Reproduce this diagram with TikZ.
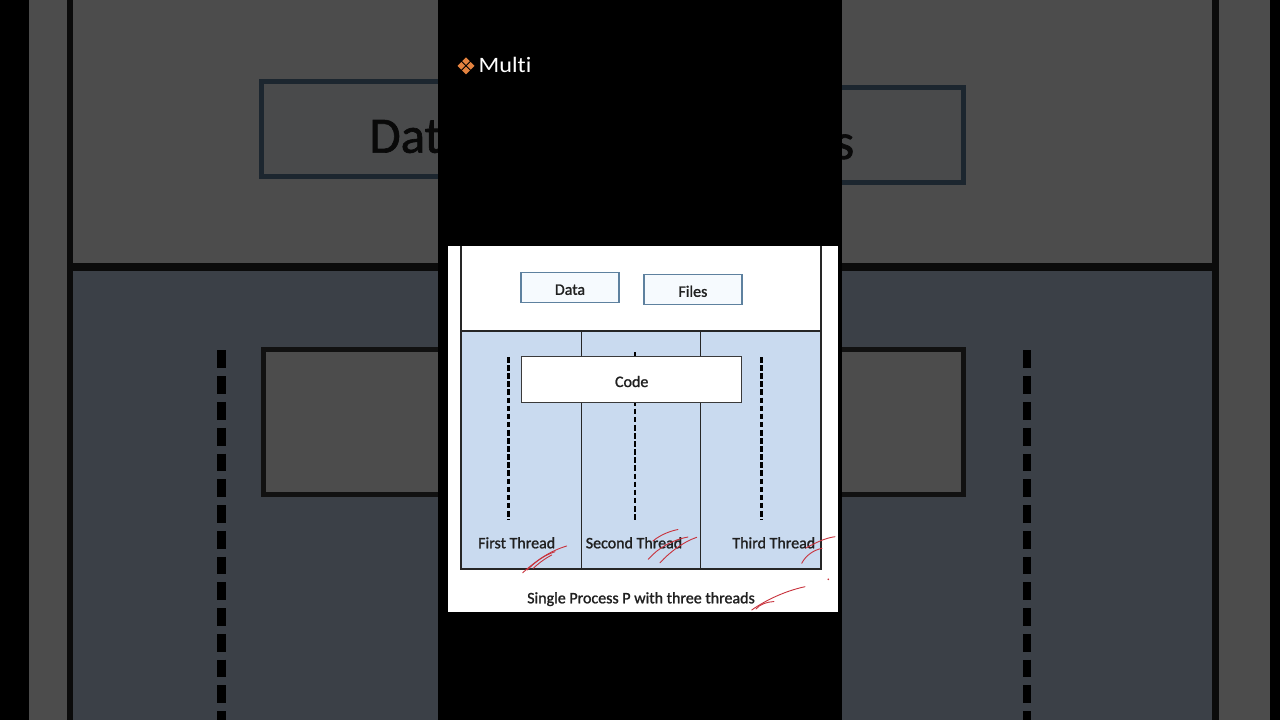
\documentclass[tikz,border=0pt]{standalone}
\usepackage{fontspec}
\setmainfont{Carlito}
\newfontfamily\diafont[FakeBold=1.3]{Carlito}
\newfontfamily\titlefont[FakeStretch=1.1, Ligatures=NoCommon]{Carlito}
\definecolor{colfill}{HTML}{C9DAEF}
\definecolor{boxline}{HTML}{5E819F}
\definecolor{boxfill}{HTML}{F6FAFE}
\definecolor{linecol}{HTML}{262626}
\definecolor{codeline}{HTML}{3A3A3A}
\definecolor{textcol}{HTML}{202020}
\definecolor{pen}{HTML}{C8323C}
\definecolor{bulletcol}{HTML}{E3823F}

\newif\ifbgpass

\tikzset{
  procline/.style={draw=linecol, line width=\lwA},
  midline/.style={draw=linecol, line width=\lwB},
  divline/.style={draw=linecol, line width=\lwC},
  threadline/.style={draw=black, line width=\lwD, dash pattern=on \dOn off \dOff},
  membox/.style={draw=boxline, fill=boxfill, line width=\lwC, minimum width=98pt,
    minimum height=30pt, inner sep=0pt, text height=15pt, text depth=0pt,
    text=textcol, font=\diafont\fontsize{16}{19}\selectfont},
  codebox/.style={draw=codeline, fill=white, line width=\lwC, minimum width=220pt,
    minimum height=45.6pt, inner sep=0pt, text height=15pt, text depth=0pt,
    text=textcol, font=\diafont\fontsize{16}{19}\selectfont},
  lbl/.style={anchor=base, inner sep=0pt, font=\diafont\fontsize{16}{19}\selectfont, text=textcol},
  penline/.style={draw=pen, line width=\lwE, line cap=round}
}

\newcommand\drawdiagram[1]{%
  \pgfmathsetmacro\lwf{#1}%
  \pgfmathsetlengthmacro\lwA{2pt*\lwf}%
  \pgfmathsetlengthmacro\lwB{2.4pt*\lwf}%
  \pgfmathsetlengthmacro\lwC{1.5pt*\lwf}%
  \pgfmathsetlengthmacro\lwD{2.7pt*\lwf}%
  \pgfmathsetlengthmacro\lwE{0.9pt*\lwf}%
  \pgfmathsetlengthmacro\dOn{5.6pt*\lwf}%
  \pgfmathsetlengthmacro\dOff{2.5pt*\lwf}%
  % image area
  \fill[white] (448,246) rectangle (838,611.5);
  \fill[colfill] (460.7,330.7) rectangle (821,569);
  % corners of the process box
  \coordinate (tl) at (460.7,246);
  \coordinate (tr) at (821,246);
  \coordinate (ml) at (460.7,330.7);
  \coordinate (mr) at (821,330.7);
  \coordinate (bl) at (460.7,569);
  \coordinate (br) at (821,569);
  \coordinate (c1t) at (581.7,330.7);
  \coordinate (c1b) at (581.7,569);
  \coordinate (c2t) at (700.7,330.7);
  \coordinate (c2b) at (700.7,569);
  \draw[divline] (c1t) -- (c1b);
  \draw[divline] (c2t) -- (c2b);
  % thread lines
  \coordinate (th1t) at (508.3,357);
  \coordinate (th1b) at (508.3,520);
  \coordinate (th2t) at (635,352);
  \coordinate (th2b) at (635,520);
  \coordinate (th3t) at (761.7,357);
  \coordinate (th3b) at (761.7,520);
  \draw[threadline] (th1t) -- (th1b);
  \draw[threadline] (th2t) -- (th2b);
  \draw[threadline] (th3t) -- (th3b);
  % code box
  \node[codebox] (code) at (631.7,379.5) {Code};
  % process borders
  \draw[procline] (tl) -- (bl) -- (br) -- (tr);
  \draw[midline] (ml) -- (mr);
  % data and files
  \node[membox] (data) at (570,287.3) {Data};
  \node[membox, minimum width=97.7pt] (files) at (692.9,289.3) {Files};
  \ifbgpass\else
  % labels
  \node[lbl] (t1) at (516.7,548.3) {First Thread};
  \node[lbl] (t2) at (634,548.3) {Second Thread};
  \node[lbl] (t3) at (773.8,548.3) {Third Thread};
  \node[lbl] (caption) at (641,603.3) {Single Process P with three threads};
  % pen marks
  \draw[penline] (522.7,572.7) .. controls (537,560) and (550,551) .. (566.7,546);
  \draw[penline] (527.3,570) .. controls (536,561) and (545,555) .. (555,551.7);
  \draw[penline] (533.3,568.3) .. controls (540,562) and (546,558) .. (551.7,555);
  \draw[penline] (653,541) .. controls (660,535) and (670,531) .. (678,529.5);
  \draw[penline] (648.3,559.3) .. controls (658,548) and (672,540) .. (688,537);
  \draw[penline] (660,562.7) .. controls (670,552) and (683,542) .. (696.7,537.3);
  \draw[penline] (801.7,563.3) .. controls (806,555) and (814,550) .. (822,548.3);
  \draw[penline] (806,548) .. controls (815,543) and (825,538) .. (835,536.7);
  \fill[pen] (828.3,579.3) circle[radius=0.9];
  \draw[penline] (751.7,610) .. controls (766,600) and (785,591) .. (805,586.7);
  \draw[penline] (756,609) .. controls (760,604) and (767,602) .. (774,601.5);
  \fi
}

\begin{document}
\begin{tikzpicture}[x=1pt, y=-1pt]
  \useasboundingbox (0,0) rectangle (1280,720);
  \fill[black] (0,0) rectangle (1280,720);
  % enlarged, darkened backdrop
  \begin{scope}
    \clip (0,0) rectangle (1280,720);
    \begin{scope}[shift={(640,360)}, scale=3.18, shift={(-640,-360)}, transform shape, name prefix=bg-]
      \bgpasstrue
      \drawdiagram{3.18}
    \end{scope}
  \end{scope}
  \fill[black, opacity=0.7] (0,0) rectangle (1280,720);
  % central panel
  \fill[black] (438,0) rectangle (842,720);
  \bgpassfalse
  \drawdiagram{1}
  % title
  \foreach \dx/\dy in {-4.7/0, 4.7/0, 0/-4.7, 0/4.7}
    \fill[bulletcol] (466,65.8+\dy) ++(\dx,0) +(-3.8,0) -- +(0,-3.8) -- +(3.8,0) -- +(0,3.8) -- cycle;
  \node[anchor=base west, inner sep=0pt, text=white, font=\titlefont\fontsize{22}{26}\selectfont] (title) at (478.5,72) {Multi};
\end{tikzpicture}
\end{document}
